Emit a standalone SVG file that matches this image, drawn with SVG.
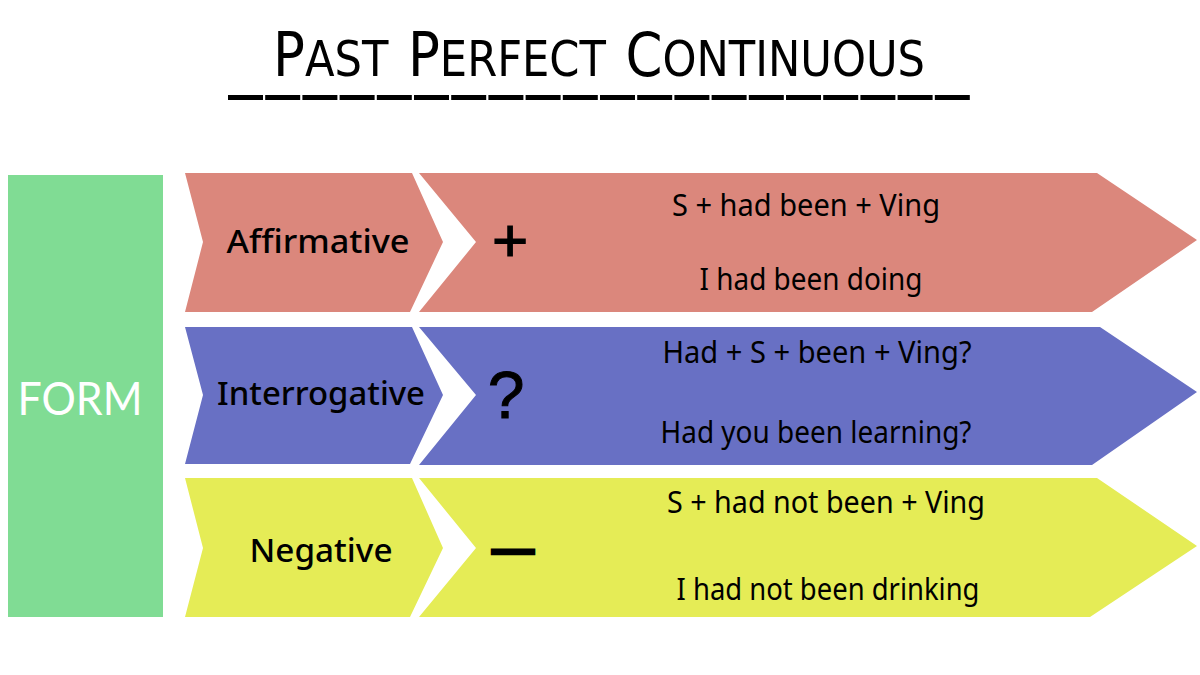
<svg xmlns="http://www.w3.org/2000/svg" width="1200" height="675" viewBox="0 0 1200 675">
<style>
.title{font-family:"DejaVu Sans Condensed","Liberation Sans",sans-serif;fill:#000}
.cap{font-size:60px}
.sc{font-size:70px;font-variant:small-caps}
.lbl{font-family:"Noto Sans","Liberation Sans",sans-serif;font-size:33px;font-weight:500;fill:#000;text-anchor:middle}
.ex{font-family:"Noto Sans","Liberation Sans",sans-serif;font-size:31px;fill:#000;text-anchor:middle}
.sym{font-family:"Liberation Sans",sans-serif;fill:#000;text-anchor:middle}
.red{fill:#db877c}
.blue{fill:#6870c4}
.yel{fill:#e5ec56}
.dash{fill:#000}
</style>
<rect width="1200" height="675" fill="#fff"/>
<g id="title">
<text class="title" x="273" y="76" textLength="652" lengthAdjust="spacingAndGlyphs"><tspan class="cap">P</tspan><tspan class="sc">ast </tspan><tspan class="cap">P</tspan><tspan class="sc">erfect </tspan><tspan class="cap">C</tspan><tspan class="sc">ontinuous</tspan></text>
<g id="underline">
<rect class="dash" x="228" y="95" width="35" height="5"/><rect class="dash" x="265.2" y="95" width="35" height="5"/><rect class="dash" x="302.4" y="95" width="35" height="5"/><rect class="dash" x="339.6" y="95" width="35" height="5"/><rect class="dash" x="376.8" y="95" width="35" height="5"/><rect class="dash" x="414" y="95" width="35" height="5"/><rect class="dash" x="451.2" y="95" width="35" height="5"/><rect class="dash" x="488.4" y="95" width="35" height="5"/><rect class="dash" x="525.6" y="95" width="35" height="5"/><rect class="dash" x="562.8" y="95" width="35" height="5"/><rect class="dash" x="600" y="95" width="35" height="5"/><rect class="dash" x="637.2" y="95" width="35" height="5"/><rect class="dash" x="674.4" y="95" width="35" height="5"/><rect class="dash" x="711.6" y="95" width="35" height="5"/><rect class="dash" x="748.8" y="95" width="35" height="5"/><rect class="dash" x="786" y="95" width="35" height="5"/><rect class="dash" x="823.2" y="95" width="35" height="5"/><rect class="dash" x="860.4" y="95" width="35" height="5"/><rect class="dash" x="897.6" y="95" width="35" height="5"/><rect class="dash" x="934.8" y="95" width="35" height="5"/>
</g>
</g>
<g id="form">
<rect x="8" y="175" width="155" height="442" fill="#80dc94"/>
<text x="80" y="415" font-family="Lato,'Open Sans',sans-serif" font-size="46" fill="#fff" text-anchor="middle" textLength="125" lengthAdjust="spacingAndGlyphs">FORM</text>
</g>
<g id="connectors"></g>
<g id="affirmative">
<polygon class="red" points="185,173 412,173 443,242 410,312 185,312 203,242"/>
<text class="lbl" x="318" y="253" textLength="183" lengthAdjust="spacingAndGlyphs">Affirmative</text>
</g>
<g id="affirmative-form">
<polygon class="red" points="419,173 1097,173 1197,240 1092,312 419,312 476,242"/>
<text class="sym" x="510" y="261" font-size="62" stroke="#000" stroke-width="1.2">+</text>
<text class="ex" x="806" y="216" textLength="268" lengthAdjust="spacingAndGlyphs">S + had been + Ving</text>
<text class="ex" x="811" y="290" textLength="223" lengthAdjust="spacingAndGlyphs">I had been doing</text>
</g>
<g id="interrogative">
<polygon class="blue" points="185,327 412,327 443,395 410,464 185,464 203,395"/>
<text class="lbl" x="321" y="405" textLength="208" lengthAdjust="spacingAndGlyphs">Interrogative</text>
</g>
<g id="interrogative-form">
<polygon class="blue" points="419,327 1100,327 1197,392 1092,465 419,465 476,395"/>
<text class="sym" x="506" y="418" font-size="66" stroke="#000" stroke-width="1">?</text>
<text class="ex" x="817" y="363" textLength="309" lengthAdjust="spacingAndGlyphs">Had + S + been + Ving?</text>
<text class="ex" x="816" y="443" textLength="311" lengthAdjust="spacingAndGlyphs">Had you been learning?</text>
</g>
<g id="negative">
<polygon class="yel" points="185,478 412,478 443,548 410,617 185,617 203,548"/>
<text class="lbl" x="321" y="562" textLength="143" lengthAdjust="spacingAndGlyphs">Negative</text>
</g>
<g id="negative-form">
<polygon class="yel" points="419,478 1097,478 1197,546 1090,617 419,617 476,548"/>
<text class="sym" x="513" y="563" font-size="42" font-weight="bold" stroke="#000" stroke-width="2.5">—</text>
<text class="ex" x="826" y="513" textLength="318" lengthAdjust="spacingAndGlyphs">S + had not been + Ving</text>
<text class="ex" x="828" y="600" textLength="303" lengthAdjust="spacingAndGlyphs">I had not been drinking</text>
</g>
</svg>
